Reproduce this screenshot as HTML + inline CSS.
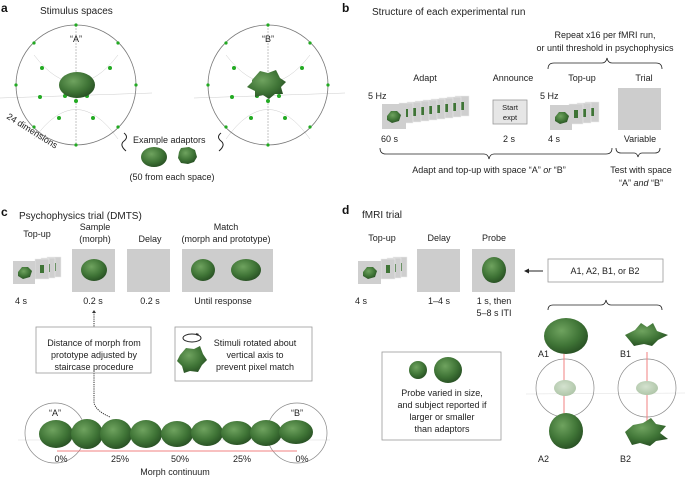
<!DOCTYPE html>
<html><head><meta charset="utf-8"><style>
html,body{margin:0;padding:0;background:#fff;}
svg{display:block;font-family:"Liberation Sans",Arial,sans-serif;}
text{fill:#222;font-size:9px;}
.t{font-size:10px;}
.L{font-size:12px;font-weight:bold;fill:#111;}
</style></head><body>
<svg width="685" height="478" viewBox="0 0 685 478" xmlns="http://www.w3.org/2000/svg">
<defs>
<radialGradient id="g" cx="40%" cy="35%" r="70%">
<stop offset="0" stop-color="#6fa35f"/><stop offset="0.6" stop-color="#3f7436"/><stop offset="1" stop-color="#264d22"/>
</radialGradient>
<radialGradient id="gl" cx="45%" cy="40%" r="70%">
<stop offset="0" stop-color="#d4e2cf"/><stop offset="1" stop-color="#a9c1a2"/>
</radialGradient>
<g id="fr"><rect width="14" height="20" fill="#cfcfcf" stroke="#eee" stroke-width="0.5"/><rect x="5" y="6" width="4" height="8" fill="#3f7436"/></g>
</defs>

<!-- Panel a -->
<text class="L" x="1" y="12">a</text>
<text class="t" x="40" y="14">Stimulus spaces</text>
<g stroke="#ccc" stroke-width="0.5" fill="none">
<line x1="0" y1="98" x2="152" y2="93"/><line x1="76" y1="25" x2="76" y2="145" stroke-dasharray="2,1" stroke="#888"/>
<path d="M34 55 Q76 110 118 55"/><path d="M34 139 Q76 80 118 139"/>
<line x1="194" y1="98" x2="345" y2="93"/><line x1="268" y1="25" x2="268" y2="145" stroke-dasharray="2,1" stroke="#888"/>
<path d="M226 55 Q268 110 310 55"/><path d="M226 139 Q268 80 310 139"/>
</g>
<circle cx="76" cy="85" r="60" fill="none" stroke="#777" stroke-width="0.8"/>
<circle cx="268" cy="85" r="60" fill="none" stroke="#777" stroke-width="0.8"/>
<g fill="#22aa22">
<circle cx="76" cy="25" r="1.6"/><circle cx="76" cy="145" r="1.6"/><circle cx="16" cy="85" r="1.6"/><circle cx="136" cy="85" r="1.6"/>
<circle cx="34" cy="43" r="1.6"/><circle cx="118" cy="43" r="1.6"/><circle cx="34" cy="127" r="1.6"/><circle cx="118" cy="127" r="1.6"/>
<circle cx="42" cy="68" r="2"/><circle cx="110" cy="68" r="2"/><circle cx="40" cy="97" r="2"/><circle cx="65" cy="96" r="2"/><circle cx="87" cy="96" r="2"/><circle cx="76" cy="101" r="2"/><circle cx="59" cy="118" r="2"/><circle cx="93" cy="118" r="2"/>
<circle cx="268" cy="25" r="1.6"/><circle cx="268" cy="145" r="1.6"/><circle cx="208" cy="85" r="1.6"/><circle cx="328" cy="85" r="1.6"/>
<circle cx="226" cy="43" r="1.6"/><circle cx="310" cy="43" r="1.6"/><circle cx="226" cy="127" r="1.6"/><circle cx="310" cy="127" r="1.6"/>
<circle cx="234" cy="68" r="2"/><circle cx="302" cy="68" r="2"/><circle cx="232" cy="97" r="2"/><circle cx="257" cy="96" r="2"/><circle cx="279" cy="96" r="2"/><circle cx="268" cy="101" r="2"/><circle cx="251" cy="118" r="2"/><circle cx="285" cy="118" r="2"/>
</g>
<ellipse cx="77" cy="85" rx="18" ry="13" fill="url(#g)"/>
<path d="M252 80 l8-9 8 2 8-3 4 8 6 4-5 5 2 7-8 0-6 5-6-4-8 2 0-6-8-4 5-5z" fill="url(#g)"/>
<text x="76" y="42" text-anchor="middle">“A”</text>
<text x="268" y="42" text-anchor="middle">“B”</text>
<text x="6" y="118" transform="rotate(32 6 118)">24 dimensions</text>
<text x="133" y="143">Example adaptors</text>
<path d="M124 133 q5 4 0 8 q-5 4 2 10" fill="none" stroke="#222"/>
<path d="M221 133 q-5 4 0 8 q5 4-2 10" fill="none" stroke="#222"/>
<ellipse cx="154" cy="157" rx="13" ry="10" fill="url(#g)"/>
<path d="M181 148 l8-1 6 3 2 7-3 5-6 2-7-1-3-5 1-6z" fill="url(#g)"/>
<text x="172" y="180" text-anchor="middle">(50 from each space)</text>

<!-- Panel b -->
<text class="L" x="342" y="12">b</text>
<text class="t" x="372" y="15">Structure of each experimental run</text>
<text x="605" y="38" text-anchor="middle">Repeat x16 per fMRI run,</text>
<text x="605" y="51" text-anchor="middle">or until threshold in psychophysics</text>
<path d="M548 69 q0-6 6-6 h48 q4 0 5-5 q1 5 5 5 h44 q6 0 6 6" fill="none" stroke="#222" stroke-width="0.8"/>
<text x="425" y="81" text-anchor="middle">Adapt</text>
<text x="513" y="81" text-anchor="middle">Announce</text>
<text x="582" y="81" text-anchor="middle">Top-up</text>
<text x="644" y="81" text-anchor="middle">Trial</text>
<text x="368" y="99">5 Hz</text><text x="540" y="99">5 Hz</text>
<g>
<use href="#fr" x="455" y="96"/><use href="#fr" x="447" y="97"/><use href="#fr" x="439" y="98"/><use href="#fr" x="431" y="99"/><use href="#fr" x="423" y="100"/><use href="#fr" x="415" y="101"/><use href="#fr" x="407" y="102"/><use href="#fr" x="399" y="103"/>
<rect x="382" y="104" width="24" height="25" fill="#cfcfcf"/>
<path d="M387 116 l4-5 6 0 4 4-2 6-7 2-5-3z" fill="url(#g)"/>
</g>
<rect x="493" y="100" width="34" height="24" fill="#e6e6e6" stroke="#999" stroke-width="0.8"/>
<text x="510" y="110" text-anchor="middle" style="font-size:7.5px">Start</text>
<text x="510" y="120" text-anchor="middle" style="font-size:7.5px">expt</text>
<use href="#fr" x="585" y="102"/><use href="#fr" x="577" y="103"/><use href="#fr" x="569" y="104"/>
<rect x="550" y="105" width="22" height="25" fill="#cfcfcf"/>
<path d="M555 117 l4-5 6 0 4 4-2 6-7 2-5-3z" fill="url(#g)"/>
<rect x="618" y="88" width="43" height="42" fill="#cdcdcd"/>
<text x="381" y="142">60 s</text><text x="503" y="142">2 s</text><text x="548" y="142">4 s</text><text x="639" y="142" text-anchor="middle" dx="1">Variable</text>
<path d="M380 148 q0 6 6 6 h98 q4 0 5 5 q1-5 5-5 h112 q6 0 6-6" fill="none" stroke="#222" stroke-width="0.8"/>
<path d="M616 148 q0 5 5 5 h13 q3 0 4 4 q1-4 4-4 h13 q5 0 5-5" fill="none" stroke="#222" stroke-width="0.8"/>
<text x="489" y="173" text-anchor="middle">Adapt and top-up with space “A” <tspan font-style="italic">or</tspan> “B”</text>
<text x="641" y="173" text-anchor="middle">Test with space</text>
<text x="641" y="186" text-anchor="middle">“A” <tspan font-style="italic">and</tspan> “B”</text>

<!-- Panel c -->
<text class="L" x="1" y="216">c</text>
<text class="t" x="19" y="219">Psychophysics trial (DMTS)</text>
<text x="37" y="237" text-anchor="middle">Top-up</text>
<text x="95" y="230" text-anchor="middle">Sample</text><text x="95" y="242" text-anchor="middle">(morph)</text>
<text x="150" y="242" text-anchor="middle">Delay</text>
<text x="226" y="230" text-anchor="middle">Match</text><text x="226" y="242" text-anchor="middle">(morph and prototype)</text>
<use href="#fr" x="47" y="257"/><use href="#fr" x="41" y="258"/><use href="#fr" x="35" y="259"/>
<rect x="13" y="261" width="22" height="23" fill="#cfcfcf"/>
<path d="M18 272 l4-5 6 0 4 4-2 6-7 2-5-3z" fill="url(#g)"/>
<rect x="72" y="249" width="43" height="43" fill="#cdcdcd"/>
<ellipse cx="94" cy="270" rx="13" ry="11" fill="url(#g)"/>
<rect x="127" y="249" width="43" height="43" fill="#cdcdcd"/>
<rect x="182" y="249" width="91" height="43" fill="#cdcdcd"/>
<ellipse cx="203" cy="270" rx="12" ry="11" fill="url(#g)"/>
<ellipse cx="246" cy="270" rx="15" ry="11" fill="url(#g)"/>
<text x="21" y="304" text-anchor="middle">4 s</text>
<text x="93" y="304" text-anchor="middle">0.2 s</text>
<text x="150" y="304" text-anchor="middle">0.2 s</text>
<text x="223" y="304" text-anchor="middle">Until response</text>
<path d="M94 312 v15 M94 373 v30 q2 8 16 14" fill="none" stroke="#333" stroke-dasharray="1.2,1"/>
<path d="M92 313 l2-3 2 3z" fill="#333"/>
<rect x="36" y="327" width="115" height="46" fill="#fff" stroke="#999" stroke-width="0.8"/>
<text x="94" y="346" text-anchor="middle">Distance of morph from</text>
<text x="94" y="358" text-anchor="middle">prototype adjusted by</text>
<text x="94" y="370" text-anchor="middle">staircase procedure</text>
<rect x="175" y="327" width="137" height="54" fill="#fff" stroke="#999" stroke-width="0.8"/>
<ellipse cx="192" cy="338" rx="9" ry="4" fill="none" stroke="#222"/>
<path d="M196 333 l3 1-2 2z" fill="#222"/>
<path d="M180 355 l6-7 8 1 6-3 3 8 4 6-5 5-4 7-8-1-6 2-2-7-5-5z" fill="url(#g)"/>
<text x="255" y="346" text-anchor="middle">Stimuli rotated about</text>
<text x="255" y="358" text-anchor="middle">vertical axis to</text>
<text x="255" y="370" text-anchor="middle">prevent pixel match</text>
<line x1="18" y1="440" x2="330" y2="440" stroke="#ddd" stroke-width="0.5"/>
<circle cx="55" cy="433" r="30" fill="none" stroke="#888" stroke-width="0.7"/>
<circle cx="297" cy="433" r="30" fill="none" stroke="#888" stroke-width="0.7"/>
<text x="55" y="416" text-anchor="middle">“A”</text><text x="297" y="416" text-anchor="middle">“B”</text>
<g fill="url(#g)">
<ellipse cx="56" cy="434" rx="17" ry="14"/><ellipse cx="87" cy="434" rx="16" ry="15"/><ellipse cx="116" cy="434" rx="16" ry="15"/>
<ellipse cx="146" cy="434" rx="16" ry="14"/><ellipse cx="177" cy="434" rx="16" ry="13"/><ellipse cx="207" cy="433" rx="16" ry="13"/>
<ellipse cx="237" cy="433" rx="16" ry="12"/><ellipse cx="266" cy="433" rx="16" ry="13"/><ellipse cx="296" cy="432" rx="17" ry="12"/>
</g>
<line x1="57" y1="451" x2="297" y2="451" stroke="#f08080" stroke-width="1"/>
<text x="61" y="462" text-anchor="middle">0%</text><text x="120" y="462" text-anchor="middle">25%</text><text x="180" y="462" text-anchor="middle">50%</text><text x="242" y="462" text-anchor="middle">25%</text><text x="302" y="462" text-anchor="middle">0%</text>
<text x="175" y="475" text-anchor="middle">Morph continuum</text>

<!-- Panel d -->
<text class="L" x="342" y="214">d</text>
<text class="t" x="362" y="218">fMRI trial</text>
<text x="382" y="241" text-anchor="middle">Top-up</text>
<text x="439" y="241" text-anchor="middle">Delay</text>
<text x="494" y="241" text-anchor="middle">Probe</text>
<use href="#fr" x="393" y="257"/><use href="#fr" x="387" y="258"/><use href="#fr" x="381" y="259"/>
<rect x="358" y="261" width="23" height="23" fill="#cfcfcf"/>
<path d="M363 272 l4-5 6 0 4 4-2 6-7 2-5-3z" fill="url(#g)"/>
<rect x="417" y="249" width="43" height="43" fill="#cdcdcd"/>
<rect x="472" y="249" width="43" height="43" fill="#cdcdcd"/>
<ellipse cx="494" cy="270" rx="12" ry="13" fill="url(#g)"/>
<line x1="528" y1="271" x2="543" y2="271" stroke="#222"/><path d="M524 271 l5-2.5v5z" fill="#222"/>
<rect x="548" y="259" width="115" height="23" fill="#fff" stroke="#999" stroke-width="0.8"/>
<text x="605" y="274" text-anchor="middle">A1, A2, B1, or B2</text>
<text x="361" y="304" text-anchor="middle">4 s</text>
<text x="439" y="304" text-anchor="middle">1–4 s</text>
<text x="494" y="304" text-anchor="middle">1 s, then</text>
<text x="494" y="316" text-anchor="middle">5–8 s ITI</text>
<path d="M548 310 q0-5 5-5 h48 q4 0 5-5 q1 5 5 5 h46 q5 0 5 5" fill="none" stroke="#222" stroke-width="0.8"/>
<rect x="382" y="352" width="119" height="88" fill="#fff" stroke="#999" stroke-width="0.8"/>
<ellipse cx="418" cy="370" rx="9" ry="9" fill="url(#g)"/>
<ellipse cx="448" cy="370" rx="14" ry="13" fill="url(#g)"/>
<text x="442" y="396" text-anchor="middle">Probe varied in size,</text>
<text x="442" y="408" text-anchor="middle">and subject reported if</text>
<text x="442" y="420" text-anchor="middle">larger or smaller</text>
<text x="442" y="432" text-anchor="middle">than adaptors</text>
<line x1="526" y1="394" x2="685" y2="393" stroke="#ddd" stroke-width="0.5"/>
<circle cx="565" cy="388" r="29" fill="none" stroke="#888" stroke-width="0.7"/>
<circle cx="647" cy="388" r="29" fill="none" stroke="#888" stroke-width="0.7"/>
<line x1="564" y1="352" x2="564" y2="424" stroke="#f08080" stroke-width="1"/>
<line x1="647" y1="352" x2="647" y2="424" stroke="#f08080" stroke-width="1"/>
<ellipse cx="565" cy="388" rx="11" ry="8" fill="url(#gl)"/>
<ellipse cx="647" cy="388" rx="11" ry="7" fill="url(#gl)"/>
<ellipse cx="566" cy="336" rx="22" ry="18" fill="url(#g)"/>
<path d="M625 335 l10-5 6-7 6 4 6-4 4 8 11 4-10 5-6 6-8-2-10 2-4-5z" fill="url(#g)"/>
<ellipse cx="566" cy="431" rx="17" ry="18" fill="url(#g)"/>
<path d="M625 432 l8-7 10-2 8-5 5 6 10 2-6 7 8 6-12 2-6 5-10-3-8 2z" fill="url(#g)"/>
<text x="538" y="357">A1</text><text x="620" y="357">B1</text>
<text x="538" y="462">A2</text><text x="620" y="462">B2</text>
</svg>
</body></html>
